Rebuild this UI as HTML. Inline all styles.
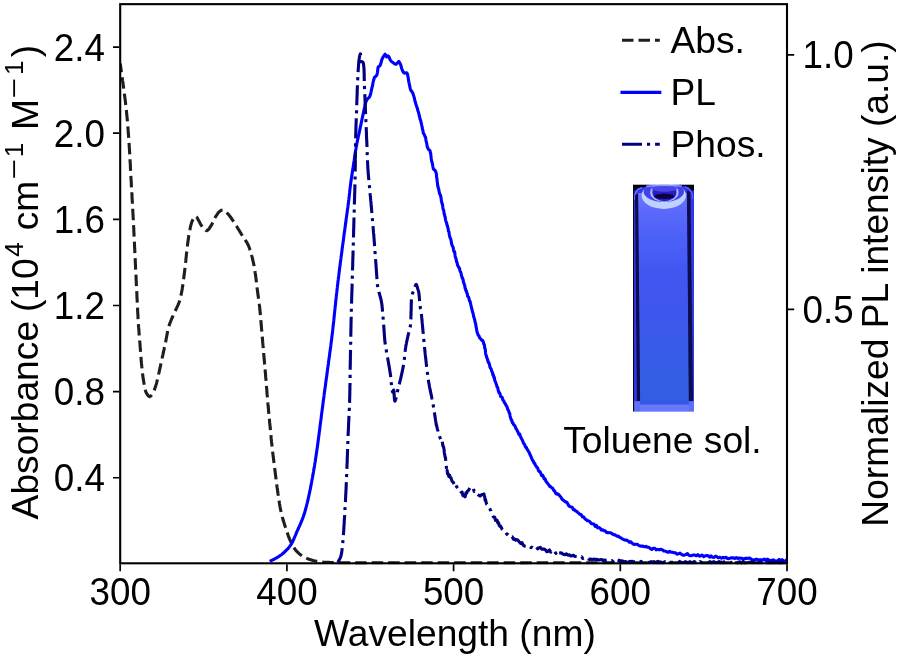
<!DOCTYPE html>
<html><head><meta charset="utf-8"><title>Spectra</title>
<style>
html,body{margin:0;padding:0;background:#fff;}
body{width:900px;height:657px;overflow:hidden;}
svg{display:block;}
text{font-family:"Liberation Sans",sans-serif;font-size:37.2px;fill:#000;}
.tk{font-size:36.8px;}
.sup{font-size:26.04px;}
</style></head><body>
<svg width="900" height="657" viewBox="0 0 900 657">
<defs>
<clipPath id="ax"><rect x="120.2" y="4.15" width="666.8" height="560.35"/></clipPath>
<linearGradient id="body" x1="0" y1="0" x2="0" y2="1">
<stop offset="0" stop-color="#7074ff"/><stop offset="0.1" stop-color="#5868fa"/><stop offset="0.22" stop-color="#4b60f6"/><stop offset="0.39" stop-color="#4056f0"/><stop offset="0.55" stop-color="#3e56ee"/><stop offset="0.75" stop-color="#385ce8"/><stop offset="1" stop-color="#325ee2"/>
</linearGradient>
<clipPath id="ph"><rect x="633" y="184.7" width="61" height="226.8"/></clipPath>
<filter id="soft" x="-10%" y="-10%" width="120%" height="120%"><feGaussianBlur stdDeviation="0.55"/></filter>
<linearGradient id="side" x1="0" y1="0" x2="0" y2="1">
<stop offset="0" stop-color="#2a22e8"/><stop offset="1" stop-color="#2030d8"/>
</linearGradient>
</defs>
<rect width="900" height="657" fill="#fff"/>

<g clip-path="url(#ax)" fill="none" stroke-linejoin="round">
<path d="M120.2,63.4 L120.4,65.0 L120.6,66.6 L120.9,68.1 L121.1,69.7 L121.3,71.3 L121.5,72.9 L121.8,74.4 L122.0,76.0 L122.2,77.6 L122.4,79.2 L122.6,80.7 L122.9,82.3 L123.1,83.9 L123.3,85.5 L123.5,87.0 L123.7,88.6 L123.9,90.2 L124.1,91.7 L124.3,93.3 L124.5,94.8 L124.7,96.3 L124.9,97.9 L125.1,99.4 L125.3,100.9 L125.5,102.5 L125.6,104.0 L125.8,105.6 L126.0,107.2 L126.2,108.8 L126.4,110.4 L126.5,112.0 L126.7,113.7 L126.8,115.1 L127.0,116.6 L127.1,118.0 L127.2,119.5 L127.4,121.0 L127.5,122.5 L127.6,124.0 L127.7,125.5 L127.9,127.1 L128.0,128.6 L128.1,130.2 L128.2,131.7 L128.3,133.3 L128.5,134.8 L128.6,136.4 L128.7,138.0 L128.8,139.5 L128.9,141.1 L129.0,142.6 L129.1,144.1 L129.2,145.7 L129.3,147.2 L129.4,148.8 L129.5,150.3 L129.6,151.9 L129.7,153.4 L129.8,155.0 L129.9,156.5 L130.0,158.0 L130.0,159.6 L130.1,161.1 L130.2,162.6 L130.3,164.2 L130.4,165.7 L130.4,167.3 L130.5,168.8 L130.6,170.4 L130.7,172.0 L130.8,173.6 L130.8,175.1 L130.9,176.8 L131.0,178.4 L131.1,180.0 L131.2,181.5 L131.3,183.0 L131.3,184.5 L131.4,186.0 L131.5,187.5 L131.6,189.0 L131.7,190.6 L131.8,192.1 L131.9,193.7 L132.0,195.3 L132.0,196.8 L132.1,198.4 L132.2,200.0 L132.3,201.6 L132.4,203.1 L132.5,204.7 L132.6,206.3 L132.7,207.8 L132.7,209.4 L132.8,210.9 L132.9,212.5 L133.0,214.0 L133.1,215.5 L133.1,217.0 L133.2,218.5 L133.3,220.0 L133.4,221.6 L133.5,223.1 L133.5,224.7 L133.6,226.2 L133.7,227.7 L133.8,229.2 L133.8,230.7 L133.9,232.2 L134.0,233.7 L134.0,235.2 L134.1,236.7 L134.2,238.2 L134.3,239.7 L134.3,241.2 L134.4,242.7 L134.5,244.1 L134.5,245.6 L134.6,247.2 L134.7,248.7 L134.8,250.2 L134.8,251.7 L134.9,253.3 L135.0,254.8 L135.0,256.3 L135.1,257.7 L135.2,259.3 L135.3,260.8 L135.3,262.3 L135.4,263.8 L135.5,265.3 L135.5,266.9 L135.6,268.4 L135.7,270.0 L135.8,271.5 L135.8,273.1 L135.9,274.6 L136.0,276.1 L136.1,277.7 L136.1,279.2 L136.2,280.7 L136.3,282.2 L136.3,283.7 L136.4,285.2 L136.5,286.7 L136.6,288.2 L136.6,289.7 L136.7,291.1 L136.8,292.7 L136.9,294.4 L136.9,296.0 L137.0,297.6 L137.1,299.2 L137.2,300.8 L137.2,302.4 L137.3,304.0 L137.4,305.6 L137.5,307.2 L137.6,308.7 L137.6,310.3 L137.7,311.8 L137.8,313.4 L137.9,314.9 L138.0,316.4 L138.0,317.8 L138.1,319.3 L138.2,320.8 L138.3,322.2 L138.4,323.9 L138.5,325.6 L138.6,327.2 L138.8,328.8 L138.9,330.4 L139.0,332.0 L139.1,333.5 L139.2,335.1 L139.4,336.6 L139.5,338.2 L139.6,339.7 L139.7,341.3 L139.9,342.8 L140.0,344.4 L140.1,346.0 L140.2,347.6 L140.4,349.2 L140.5,350.9 L140.6,352.5 L140.7,354.2 L140.9,355.8 L141.0,357.4 L141.1,359.0 L141.2,360.6 L141.4,362.2 L141.5,363.7 L141.7,365.2 L141.8,366.7 L142.0,368.4 L142.2,370.0 L142.3,371.7 L142.5,373.3 L142.7,374.8 L142.9,376.4 L143.1,377.9 L143.3,379.4 L143.6,380.8 L143.8,382.2 L144.1,384.1 L144.4,385.9 L144.7,387.6 L145.0,389.3 L145.5,390.8 L146.0,392.2 L147.1,394.2 L148.3,396.0 L149.6,396.7 L150.9,395.9 L152.1,394.2 L153.3,392.2 L154.0,390.8 L154.6,389.4 L155.1,387.8 L155.7,386.1 L156.2,384.4 L156.6,383.1 L156.9,381.7 L157.3,380.2 L157.6,378.7 L158.0,377.2 L158.3,375.7 L158.6,374.1 L159.0,372.6 L159.3,371.1 L159.6,369.6 L160.0,368.2 L160.3,366.7 L160.6,365.2 L160.9,363.8 L161.2,362.3 L161.5,360.8 L161.9,359.3 L162.2,357.8 L162.5,356.3 L162.9,354.8 L163.2,353.2 L163.5,351.7 L163.9,350.1 L164.2,348.5 L164.6,346.9 L164.9,345.4 L165.3,343.8 L165.6,342.2 L165.9,340.6 L166.2,339.0 L166.5,337.3 L166.8,335.7 L167.1,334.1 L167.4,332.4 L167.7,330.8 L168.1,329.2 L168.5,327.7 L168.9,326.2 L169.4,324.6 L170.0,323.0 L170.6,321.5 L171.2,320.0 L171.8,318.5 L172.5,317.0 L173.1,315.5 L173.8,314.0 L174.5,312.5 L175.2,311.0 L175.9,309.5 L176.7,307.9 L177.4,306.4 L178.1,304.9 L178.7,303.4 L179.3,301.8 L179.8,300.2 L180.2,298.7 L180.6,297.1 L180.9,295.6 L181.3,294.0 L181.6,292.3 L181.9,290.7 L182.2,288.9 L182.4,287.5 L182.7,286.1 L182.9,284.6 L183.1,283.1 L183.3,281.6 L183.5,280.0 L183.7,278.5 L183.9,276.9 L184.1,275.3 L184.3,273.7 L184.5,272.1 L184.7,270.5 L184.9,268.9 L185.1,267.3 L185.3,265.8 L185.4,264.2 L185.6,262.5 L185.8,260.9 L185.9,259.3 L186.1,257.6 L186.3,256.0 L186.4,254.4 L186.6,252.8 L186.8,251.2 L186.9,249.7 L187.1,248.2 L187.3,246.7 L187.5,245.0 L187.7,243.3 L187.9,241.7 L188.2,240.1 L188.4,238.5 L188.6,236.9 L188.8,235.4 L189.1,233.9 L189.3,232.5 L189.6,231.1 L190.0,229.3 L190.3,227.4 L190.7,225.7 L191.2,224.0 L191.6,222.5 L192.2,221.1 L193.2,218.9 L194.4,217.0 L195.6,216.2 L196.7,217.1 L197.8,219.1 L198.9,221.1 L199.7,222.5 L200.5,224.0 L201.3,225.4 L202.2,226.7 L203.2,228.0 L204.4,229.3 L205.6,230.3 L206.7,230.7 L207.8,230.1 L209.0,228.9 L210.1,227.2 L211.1,225.6 L211.9,224.3 L212.6,222.8 L213.4,221.2 L214.1,219.6 L214.8,218.1 L215.6,216.7 L216.7,215.1 L217.7,213.5 L218.9,212.1 L220.0,211.1 L221.6,210.2 L223.3,210.0 L224.8,210.8 L226.3,212.2 L227.8,213.8 L228.7,214.8 L229.7,216.0 L230.6,217.2 L231.5,218.5 L232.4,219.8 L233.3,221.1 L234.1,222.3 L234.9,223.6 L235.8,224.9 L236.6,226.2 L237.4,227.5 L238.1,228.8 L238.9,230.0 L239.8,231.5 L240.7,233.0 L241.6,234.5 L242.4,235.9 L243.3,237.3 L244.3,238.8 L245.4,240.3 L246.4,241.7 L247.3,243.3 L248.0,244.7 L248.7,246.2 L249.3,247.8 L249.8,249.4 L250.4,251.1 L250.9,252.6 L251.3,254.1 L251.7,255.6 L252.2,257.2 L252.5,258.9 L252.9,260.5 L253.3,262.2 L253.6,263.6 L253.9,265.0 L254.1,266.5 L254.4,268.0 L254.7,269.4 L254.9,270.9 L255.1,272.5 L255.4,274.0 L255.6,275.6 L255.8,277.1 L256.0,278.7 L256.2,280.3 L256.4,282.0 L256.6,283.7 L256.8,285.4 L257.0,287.0 L257.2,288.7 L257.4,290.3 L257.6,291.8 L257.8,293.3 L258.0,295.1 L258.3,296.7 L258.5,298.3 L258.7,299.9 L259.0,301.5 L259.2,303.2 L259.4,305.0 L259.6,306.4 L259.7,307.8 L259.8,309.3 L260.0,310.7 L260.1,312.3 L260.3,313.8 L260.4,315.4 L260.5,317.0 L260.7,318.6 L260.8,320.2 L261.0,321.8 L261.1,323.5 L261.2,325.0 L261.4,326.5 L261.5,328.0 L261.6,329.6 L261.8,331.1 L261.9,332.7 L262.0,334.3 L262.2,335.9 L262.3,337.5 L262.5,339.2 L262.6,340.8 L262.7,342.4 L262.9,344.0 L263.0,345.7 L263.2,347.3 L263.3,348.9 L263.4,350.5 L263.6,352.0 L263.7,353.6 L263.8,355.1 L264.0,356.7 L264.1,358.3 L264.2,359.8 L264.4,361.4 L264.5,363.0 L264.7,364.6 L264.8,366.2 L264.9,367.7 L265.1,369.3 L265.2,370.9 L265.3,372.5 L265.5,374.0 L265.6,375.6 L265.7,377.2 L265.9,378.7 L266.0,380.3 L266.1,381.9 L266.2,383.4 L266.4,385.0 L266.5,386.6 L266.6,388.1 L266.8,389.7 L266.9,391.3 L267.0,392.8 L267.1,394.4 L267.3,396.0 L267.4,397.5 L267.5,399.1 L267.7,400.6 L267.8,402.2 L267.9,403.7 L268.1,405.3 L268.2,406.8 L268.4,408.4 L268.5,409.9 L268.6,411.5 L268.8,413.0 L268.9,414.6 L269.1,416.1 L269.2,417.6 L269.4,419.2 L269.5,420.7 L269.6,422.2 L269.8,423.7 L269.9,425.1 L270.1,426.6 L270.2,428.0 L270.4,429.6 L270.5,431.2 L270.7,432.7 L270.8,434.2 L271.0,435.8 L271.1,437.3 L271.2,438.7 L271.4,440.2 L271.5,441.7 L271.7,443.2 L271.9,444.7 L272.0,446.2 L272.2,447.8 L272.4,449.3 L272.6,450.9 L272.7,452.5 L272.9,454.1 L273.1,455.6 L273.3,457.2 L273.5,458.8 L273.7,460.4 L273.9,462.0 L274.1,463.6 L274.3,465.2 L274.5,466.8 L274.7,468.4 L274.9,470.0 L275.1,471.6 L275.3,473.2 L275.5,474.8 L275.7,476.4 L275.9,478.0 L276.1,479.6 L276.3,481.2 L276.5,482.8 L276.7,484.4 L276.9,485.9 L277.1,487.5 L277.4,489.1 L277.6,490.7 L277.8,492.2 L278.0,493.8 L278.3,495.4 L278.5,496.9 L278.7,498.5 L278.9,500.1 L279.2,501.7 L279.4,503.2 L279.7,504.8 L279.9,506.3 L280.2,507.8 L280.5,509.3 L280.8,510.8 L281.1,512.2 L281.5,513.9 L281.9,515.5 L282.3,517.1 L282.8,518.7 L283.2,520.3 L283.7,521.8 L284.2,523.3 L284.6,524.8 L285.1,526.3 L285.6,527.8 L286.1,529.4 L286.6,531.0 L287.2,532.6 L287.7,534.1 L288.2,535.6 L288.8,537.1 L289.4,538.6 L290.0,540.0 L290.7,541.5 L291.4,543.1 L292.2,544.6 L293.0,546.0 L293.8,547.4 L294.7,548.8 L295.6,550.0 L296.8,551.4 L298.1,552.7 L299.4,553.9 L300.8,555.0 L302.2,556.0 L303.7,556.9 L305.2,557.7 L306.8,558.4 L308.4,559.0 L310.0,559.6 L311.4,560.0 L312.8,560.4 L314.2,560.8 L315.7,561.1 L317.3,561.3 L318.9,561.6 L320.2,561.8 L321.5,561.9 L322.9,562.1 L324.3,562.2 L325.7,562.3 L327.2,562.3 L328.8,562.4 L330.5,562.5 L332.4,562.5 L334.4,562.6 L335.4,562.6 L336.4,562.7 L337.5,562.7 L338.6,562.7 L339.6,562.7 L340.8,562.8 L341.9,562.8 L343.0,562.8 L344.2,562.8 L345.4,562.8 L346.6,562.8 L347.9,562.8 L349.1,562.8 L350.4,562.9 L351.8,562.9 L353.1,562.9 L354.5,562.9 L355.9,562.9 L357.3,562.9 L358.7,562.9 L360.2,562.9 L361.7,562.9 L363.2,562.9 L364.8,562.9 L366.4,562.9 L368.0,562.8 L369.6,562.8 L371.3,562.8 L373.0,562.8 L374.7,562.8 L376.5,562.8 L378.2,562.8 L380.1,562.8 L381.9,562.8 L383.8,562.8 L385.7,562.8 L387.6,562.8 L389.6,562.8 L391.6,562.8 L393.7,562.8 L395.7,562.8 L397.9,562.8 L400.0,562.8 L400.9,562.8 L401.8,562.8 L402.7,562.8 L403.6,562.8 L404.5,562.8 L405.4,562.8 L406.4,562.8 L407.3,562.8 L408.3,562.8 L409.2,562.8 L410.2,562.8 L411.2,562.8 L412.2,562.8 L413.2,562.8 L414.2,562.8 L415.2,562.8 L416.2,562.8 L417.3,562.8 L418.3,562.8 L419.4,562.8 L420.4,562.8 L421.5,562.8 L422.6,562.8 L423.7,562.8 L424.8,562.8 L425.9,562.8 L427.0,562.8 L428.1,562.8 L429.2,562.8 L430.4,562.8 L431.5,562.8 L432.7,562.8 L433.8,562.8 L435.0,562.8 L436.2,562.8 L437.3,562.8 L438.5,562.8 L439.7,562.8 L440.9,562.8 L442.1,562.8 L443.4,562.8 L444.6,562.8 L445.8,562.8 L447.1,562.8 L448.3,562.8 L449.6,562.8 L450.9,562.8 L452.1,562.8 L453.4,562.8 L454.7,562.8 L456.0,562.8 L457.3,562.8 L458.6,562.8 L459.9,562.8 L461.2,562.8 L462.5,562.8 L463.9,562.8 L465.2,562.8 L466.6,562.8 L467.9,562.8 L469.3,562.8 L470.6,562.8 L472.0,562.8 L473.4,562.8 L474.8,562.8 L476.2,562.8 L477.5,562.8 L478.9,562.8 L480.4,562.8 L481.8,562.8 L483.2,562.8 L484.6,562.8 L486.0,562.9 L487.5,562.9 L488.9,562.9 L490.4,562.9 L491.8,562.9 L493.3,562.9 L494.7,562.9 L496.2,562.9 L497.7,562.9 L499.1,562.9 L500.6,562.9 L502.1,562.9 L503.6,562.9 L505.1,562.9 L506.6,562.9 L508.1,562.9 L509.6,562.9 L511.1,562.9 L512.7,562.9 L514.2,562.9 L515.7,562.9 L517.3,562.9 L518.8,562.9 L520.3,562.9 L521.9,562.9 L523.4,562.9 L525.0,562.9 L526.6,562.9 L528.1,562.8 L529.7,562.8 L531.3,562.8 L532.8,562.8 L534.4,562.8 L536.0,562.8 L537.6,562.8 L539.2,562.8 L540.8,562.8 L542.4,562.8 L544.0,562.8 L545.6,562.8 L547.2,562.8 L548.8,562.8 L550.4,562.8 L552.0,562.8 L553.7,562.8 L555.3,562.8 L556.9,562.8 L558.5,562.8 L560.2,562.8 L561.8,562.8 L563.4,562.8 L565.1,562.8 L566.7,562.8 L568.4,562.8 L570.0,562.8 L571.7,562.8 L573.3,562.8 L575.0,562.8 L576.7,562.8 L578.3,562.8 L580.0,562.8 L581.7,562.8 L583.3,562.8 L585.0,562.8 L586.7,562.8 L588.3,562.8 L590.0,562.8 L591.7,562.8 L593.4,562.8 L595.1,562.8 L596.7,562.8 L598.4,562.8 L600.1,562.8 L601.8,562.8 L603.5,562.8 L605.2,562.8 L606.9,562.8 L608.6,562.8 L610.3,562.8 L612.0,562.8 L613.7,562.8 L615.4,562.8 L617.1,562.8 L618.8,562.8 L620.5,562.8 L622.2,562.8 L623.9,562.8 L625.6,562.8 L627.3,562.8 L629.0,562.8 L630.7,562.8 L632.4,562.8 L634.1,562.8 L635.8,562.8 L637.5,562.8 L639.2,562.8 L640.9,562.8 L642.6,562.8 L644.3,562.8 L646.1,562.8 L647.8,562.8 L649.5,562.8 L651.2,562.8 L652.9,562.8 L654.6,562.8 L656.3,562.8 L658.0,562.8 L659.7,562.8 L661.4,562.8 L663.1,562.8 L664.8,562.8 L666.5,562.8 L668.2,562.8 L669.9,562.8 L671.6,562.8 L673.3,562.8 L675.1,562.8 L676.7,562.8 L678.4,562.8 L680.1,562.8 L681.8,562.8 L683.5,562.8 L685.2,562.8 L686.9,562.8 L688.6,562.8 L690.3,562.8 L692.0,562.8 L693.7,562.8 L695.4,562.8 L697.1,562.8 L698.7,562.8 L700.4,562.8 L702.1,562.8 L703.8,562.8 L705.4,562.8 L707.1,562.8 L708.8,562.8 L710.5,562.8 L712.1,562.8 L713.8,562.8 L715.4,562.8 L717.1,562.8 L718.8,562.8 L720.4,562.8 L722.1,562.8 L723.7,562.8 L725.4,562.8 L727.0,562.8 L728.7,562.8 L730.3,562.8 L731.9,562.8 L733.6,562.8 L735.2,562.8 L736.8,562.8 L738.5,562.8 L740.1,562.8 L741.7,562.8 L743.3,562.8 L744.9,562.8 L746.5,562.8 L748.1,562.8 L749.7,562.8 L751.3,562.8 L752.9,562.8 L754.5,562.8 L756.1,562.8 L757.7,562.8 L759.3,562.8 L760.8,562.8 L762.4,562.8 L764.0,562.8 L765.6,562.8 L767.1,562.8 L768.7,562.8 L770.2,562.8 L771.8,562.8 L773.3,562.8 L774.8,562.8 L776.4,562.8 L777.9,562.8 L779.4,562.8 L781.0,562.8 L782.5,562.8 L784.0,562.8 L785.5,562.8 L787.0,562.8" stroke="#1e1e1e" stroke-width="3.1" stroke-dasharray="11.5 5" stroke-dashoffset="2.5"/>
<path d="M271.1,560.7 L272.4,560.0 L273.8,559.3 L275.1,558.6 L276.5,557.9 L277.8,557.1 L279.2,556.2 L280.5,555.3 L281.8,554.4 L283.1,553.3 L284.4,552.2 L285.4,551.2 L286.4,550.2 L287.4,549.2 L288.4,548.1 L289.3,546.9 L290.2,545.7 L291.1,544.4 L291.8,543.2 L292.5,542.0 L293.1,540.7 L293.7,539.3 L294.3,537.9 L294.9,536.5 L295.5,535.1 L296.1,533.6 L296.7,532.2 L297.2,531.0 L297.8,529.7 L298.4,528.5 L298.9,527.2 L299.5,526.0 L300.1,524.7 L300.7,523.4 L301.2,522.0 L301.8,520.7 L302.3,519.4 L302.8,518.0 L303.3,516.7 L303.7,515.4 L304.2,514.1 L304.6,512.7 L305.0,511.4 L305.4,510.0 L305.8,508.7 L306.1,507.3 L306.5,505.9 L306.8,504.5 L307.2,503.1 L307.5,501.7 L307.9,500.3 L308.2,498.9 L308.5,497.5 L308.8,496.1 L309.1,494.7 L309.4,493.3 L309.7,491.9 L310.0,490.4 L310.3,489.0 L310.6,487.5 L310.9,486.1 L311.1,484.7 L311.4,483.2 L311.7,481.8 L311.9,480.3 L312.2,478.9 L312.5,477.5 L312.7,476.0 L313.0,474.6 L313.2,473.2 L313.5,471.8 L313.7,470.3 L314.0,468.9 L314.2,467.5 L314.5,466.0 L314.7,464.6 L314.9,463.2 L315.2,461.8 L315.4,460.3 L315.6,458.9 L315.8,457.5 L316.0,456.1 L316.2,454.8 L316.4,453.4 L316.6,452.1 L316.8,450.7 L317.0,449.3 L317.2,448.0 L317.4,446.6 L317.6,445.2 L317.8,443.7 L318.0,442.2 L318.2,440.6 L318.4,439.0 L318.6,437.8 L318.7,436.6 L318.9,435.3 L319.1,434.0 L319.2,432.7 L319.4,431.3 L319.6,430.0 L319.8,428.6 L319.9,427.2 L320.1,425.7 L320.3,424.3 L320.5,422.9 L320.7,421.4 L320.9,419.9 L321.1,418.4 L321.3,417.0 L321.4,415.5 L321.6,414.0 L321.8,412.5 L322.0,411.1 L322.2,409.6 L322.4,408.1 L322.6,406.7 L322.8,405.3 L322.9,403.9 L323.1,402.5 L323.3,401.1 L323.5,399.7 L323.7,398.2 L323.9,396.8 L324.1,395.4 L324.2,394.0 L324.4,392.6 L324.6,391.2 L324.8,389.8 L325.0,388.5 L325.2,387.1 L325.4,385.7 L325.6,384.3 L325.7,382.9 L325.9,381.6 L326.1,380.2 L326.3,378.8 L326.5,377.5 L326.7,376.1 L326.9,374.7 L327.1,373.3 L327.2,372.0 L327.4,370.6 L327.6,369.2 L327.8,367.8 L328.0,366.4 L328.2,365.0 L328.4,363.7 L328.5,362.3 L328.7,360.9 L328.9,359.6 L329.1,358.2 L329.3,356.8 L329.5,355.5 L329.7,354.1 L329.8,352.7 L330.0,351.4 L330.2,350.0 L330.4,348.6 L330.6,347.3 L330.8,345.9 L330.9,344.5 L331.1,343.1 L331.3,341.6 L331.5,340.2 L331.7,338.8 L331.8,337.3 L332.0,335.9 L332.2,334.4 L332.4,333.1 L332.5,331.7 L332.7,330.4 L332.8,329.0 L333.0,327.6 L333.1,326.2 L333.3,324.8 L333.5,323.3 L333.6,321.9 L333.8,320.4 L333.9,319.0 L334.1,317.5 L334.2,316.0 L334.4,314.5 L334.5,313.1 L334.7,311.6 L334.8,310.1 L335.0,308.7 L335.1,307.2 L335.3,305.8 L335.5,304.3 L335.6,302.9 L335.7,301.5 L335.9,300.1 L336.0,298.8 L336.2,297.4 L336.3,296.1 L336.5,294.8 L336.6,293.5 L336.8,292.2 L336.9,291.0 L337.1,289.4 L337.3,287.9 L337.4,286.4 L337.6,285.0 L337.8,283.5 L337.9,282.2 L338.1,280.8 L338.3,279.4 L338.4,278.1 L338.6,276.8 L338.8,275.4 L338.9,274.1 L339.1,272.7 L339.3,271.3 L339.4,270.0 L339.6,268.5 L339.8,267.1 L340.0,265.6 L340.2,264.3 L340.3,263.0 L340.5,261.6 L340.7,260.3 L340.9,258.9 L341.0,257.6 L341.2,256.2 L341.4,254.8 L341.6,253.4 L341.8,252.0 L342.0,250.6 L342.1,249.2 L342.3,247.8 L342.5,246.3 L342.7,244.9 L342.9,243.5 L343.1,242.1 L343.3,240.7 L343.5,239.2 L343.7,237.8 L343.8,236.4 L344.0,235.0 L344.2,233.6 L344.4,232.2 L344.6,230.8 L344.8,229.4 L345.0,227.9 L345.2,226.5 L345.4,225.0 L345.6,223.5 L345.8,222.0 L346.0,220.5 L346.2,219.0 L346.4,217.6 L346.6,216.1 L346.8,214.6 L347.0,213.2 L347.2,211.7 L347.4,210.3 L347.6,208.9 L347.8,207.5 L348.0,206.2 L348.1,204.9 L348.3,203.6 L348.5,202.3 L348.6,201.1 L348.8,200.0 L348.9,198.9 L349.1,197.2 L349.3,195.6 L349.4,194.1 L349.6,192.7 L349.7,191.4 L349.9,190.0 L350.0,188.6 L350.2,187.2 L350.4,185.6 L350.6,184.3 L350.7,183.0 L350.9,181.7 L351.1,180.3 L351.3,178.9 L351.5,177.5 L351.8,176.1 L352.0,174.7 L352.2,173.2 L352.4,171.8 L352.6,170.3 L352.9,168.9 L353.1,167.4 L353.3,166.0 L353.5,164.6 L353.7,163.1 L353.9,161.7 L354.2,160.2 L354.4,158.7 L354.6,157.3 L354.8,155.8 L355.1,154.3 L355.3,152.8 L355.5,151.4 L355.7,149.9 L356.0,148.5 L356.2,147.1 L356.5,145.7 L356.7,144.4 L357.0,142.9 L357.3,141.4 L357.6,140.0 L357.9,138.6 L358.2,137.2 L358.5,135.8 L358.8,134.4 L359.1,133.1 L359.4,131.7 L359.7,130.3 L360.0,128.9 L360.3,127.5 L360.6,126.0 L360.9,124.6 L361.2,123.2 L361.5,121.7 L361.8,120.3 L362.1,118.9 L362.4,117.5 L362.7,116.1 L363.0,114.7 L363.3,113.3 L363.7,111.7 L364.0,110.1 L364.3,108.4 L364.7,106.8 L365.0,105.2 L365.4,103.7 L365.8,102.3 L366.2,101.1 L366.7,100.0 L367.6,98.8 L368.7,97.9 L369.6,96.7 L370.1,95.6 L370.5,94.3 L370.9,92.8 L371.2,91.3 L371.5,89.7 L371.9,88.2 L372.2,86.7 L372.6,85.3 L372.9,83.3 L373.2,81.8 L373.5,80.5 L373.9,79.2 L374.4,77.5 L375.6,76.5 L376.7,75.3 L377.1,74.3 L377.4,72.5 L377.6,71.0 L377.8,69.4 L378.0,67.6 L378.4,66.8 L380.0,65.7 L380.5,64.3 L380.9,63.3 L381.3,61.6 L381.7,60.2 L382.2,58.7 L383.1,57.1 L384.2,55.2 L385.1,54.2 L385.9,55.5 L386.7,56.9 L388.2,55.9 L388.9,56.7 L389.6,58.4 L390.4,60.3 L391.8,61.8 L393.3,62.8 L394.8,63.9 L396.2,64.2 L397.6,62.7 L398.9,61.5 L399.9,63.1 L400.7,64.9 L401.2,66.4 L401.6,68.2 L402.2,69.9 L403.2,72.0 L404.4,73.1 L406.7,72.8 L407.3,73.6 L407.7,75.3 L408.0,76.8 L408.3,78.5 L408.6,80.4 L408.9,82.2 L409.2,83.7 L409.6,85.3 L409.9,87.2 L410.2,88.4 L410.7,90.0 L411.8,91.5 L412.9,93.4 L413.3,94.6 L413.7,95.9 L414.1,97.3 L414.5,98.7 L414.8,100.4 L415.2,101.7 L415.6,103.4 L416.1,104.7 L416.5,106.2 L417.0,107.4 L417.5,109.0 L418.0,111.0 L418.4,112.0 L418.8,113.7 L419.1,115.0 L419.5,116.5 L419.8,117.7 L420.1,119.4 L420.5,119.7 L420.8,121.1 L421.1,122.7 L421.5,124.2 L421.8,125.6 L422.2,127.2 L422.5,129.5 L422.9,130.2 L423.3,133.1 L423.9,134.0 L424.5,135.1 L425.1,136.7 L425.6,137.3 L425.9,140.0 L426.2,141.3 L426.5,142.7 L426.8,143.8 L427.1,146.1 L427.4,147.2 L427.8,148.1 L428.7,149.7 L429.6,150.3 L430.0,150.7 L430.3,152.3 L430.6,153.0 L430.8,154.6 L431.1,157.2 L431.3,158.9 L431.6,160.7 L431.8,161.8 L432.2,163.0 L432.5,163.9 L432.8,166.3 L433.3,168.7 L434.0,169.6 L434.9,170.1 L435.6,171.4 L435.9,172.0 L436.2,173.1 L436.4,174.2 L436.6,177.3 L436.8,178.3 L437.0,178.8 L437.1,180.9 L437.3,181.8 L437.5,183.6 L437.8,186.1 L438.1,187.4 L438.5,188.5 L438.8,189.6 L439.2,191.8 L439.6,193.9 L440.0,194.3 L440.4,195.0 L440.7,196.5 L441.1,198.1 L441.4,201.2 L441.7,201.7 L442.0,203.7 L442.3,203.8 L442.6,205.4 L442.9,207.7 L443.2,209.6 L443.5,209.9 L443.8,210.8 L444.1,213.8 L444.4,214.0 L444.8,216.4 L445.1,216.8 L445.5,219.3 L445.9,221.1 L446.3,222.4 L446.7,223.1 L447.0,225.3 L447.4,225.6 L447.8,227.4 L448.2,229.1 L448.5,231.5 L448.9,231.6 L449.3,234.5 L449.6,235.9 L450.0,237.7 L450.3,238.0 L450.7,239.1 L451.1,240.6 L451.5,243.2 L451.9,244.9 L452.3,245.7 L452.8,246.7 L453.2,247.7 L453.6,250.1 L454.0,251.6 L454.4,251.4 L454.8,253.0 L455.1,255.7 L455.4,257.2 L455.7,257.6 L456.0,258.9 L456.4,260.6 L456.7,262.1 L457.1,262.5 L457.6,265.4 L458.2,266.1 L458.8,267.8 L459.4,268.0 L460.0,270.9 L460.5,271.9 L460.9,272.5 L461.4,275.2 L461.8,276.3 L462.2,278.1 L462.6,278.1 L463.1,279.7 L463.5,282.4 L463.9,282.9 L464.3,284.7 L464.7,285.3 L465.1,288.3 L465.5,288.8 L465.9,290.8 L466.3,290.6 L466.7,292.8 L467.2,293.3 L467.6,296.2 L468.1,296.7 L468.6,297.2 L469.0,298.5 L469.5,300.8 L470.0,301.2 L470.4,302.9 L470.8,304.7 L471.2,306.2 L471.5,307.7 L471.9,309.3 L472.2,310.2 L472.6,312.2 L472.9,312.7 L473.3,314.5 L473.7,317.0 L474.0,317.2 L474.4,318.8 L474.8,320.3 L475.1,322.3 L475.4,322.9 L475.8,324.6 L476.1,327.0 L476.4,328.0 L476.8,330.6 L477.2,332.3 L477.6,333.3 L478.0,334.8 L478.4,335.4 L478.9,335.8 L479.7,337.9 L480.7,338.8 L481.6,340.1 L482.5,340.2 L483.3,341.7 L483.7,343.9 L484.1,344.1 L484.5,345.7 L484.7,348.2 L485.0,348.4 L485.3,349.7 L485.5,352.4 L485.7,353.7 L486.0,355.2 L486.3,355.5 L486.7,357.6 L487.2,358.3 L487.7,360.2 L488.3,362.5 L488.8,362.5 L489.4,364.3 L490.0,367.1 L490.6,368.4 L491.1,368.9 L491.6,370.7 L492.0,371.8 L492.5,372.7 L492.9,374.9 L493.4,374.9 L493.8,377.5 L494.3,377.3 L494.7,380.3 L495.1,381.2 L495.6,382.1 L496.1,383.9 L496.6,384.9 L497.0,387.0 L497.5,387.1 L498.0,389.2 L498.5,391.3 L499.0,392.8 L499.5,392.6 L500.0,393.9 L500.7,396.6 L501.4,396.8 L502.2,397.5 L502.9,400.1 L503.7,400.7 L504.4,402.7 L505.1,403.4 L505.7,404.7 L506.4,405.8 L507.1,406.8 L507.7,409.3 L508.3,410.1 L508.9,411.7 L509.4,413.3 L509.7,413.4 L510.1,416.1 L510.4,417.4 L510.7,418.1 L511.2,419.7 L511.7,420.2 L512.3,422.7 L512.9,422.7 L513.6,424.7 L514.3,425.1 L515.1,426.2 L515.9,428.5 L516.7,429.5 L517.4,431.1 L518.2,432.6 L518.9,434.3 L519.6,433.8 L520.3,436.2 L520.9,437.4 L521.6,438.9 L522.3,440.0 L522.9,441.4 L523.6,443.4 L524.2,443.9 L524.9,445.4 L525.6,447.1 L526.3,447.2 L527.0,449.2 L527.7,449.9 L528.4,451.3 L529.1,452.3 L529.8,454.1 L530.5,455.4 L531.2,457.3 L531.9,458.7 L532.6,460.5 L533.3,461.1 L534.0,463.2 L534.8,463.5 L535.5,465.4 L536.2,466.3 L537.0,467.6 L537.7,468.1 L538.5,470.7 L539.2,471.5 L540.0,471.5 L540.8,473.5 L541.7,475.7 L542.5,475.1 L543.4,476.8 L544.2,479.0 L545.1,478.8 L546.0,481.4 L546.9,482.3 L547.8,483.8 L548.7,484.6 L549.7,486.5 L550.7,486.5 L551.7,488.0 L552.6,488.1 L553.6,490.2 L554.6,491.0 L555.6,493.2 L556.7,494.2 L557.8,493.8 L558.8,494.7 L559.9,496.0 L561.0,497.2 L562.2,499.4 L563.3,500.1 L564.4,501.1 L565.5,501.9 L566.6,502.0 L567.7,503.7 L568.8,505.9 L570.0,506.5 L571.1,507.0 L572.2,507.2 L573.3,509.6 L574.4,509.6 L575.5,511.0 L576.6,511.2 L577.7,512.4 L578.9,513.4 L580.0,514.5 L581.1,514.6 L582.4,516.9 L583.6,516.9 L584.9,518.7 L586.2,519.7 L587.4,520.8 L588.7,520.9 L590.0,521.8 L591.3,523.6 L592.5,523.7 L593.8,524.0 L595.1,526.3 L596.3,525.3 L597.6,527.8 L598.9,527.4 L600.2,528.3 L601.4,530.1 L602.7,529.7 L604.0,530.8 L605.2,530.8 L606.5,532.4 L607.8,532.6 L609.3,532.8 L610.7,532.7 L612.2,533.8 L613.7,534.7 L615.2,534.9 L616.7,536.1 L618.0,536.0 L619.4,537.2 L620.8,537.9 L622.2,538.8 L623.7,539.5 L625.1,540.1 L626.6,540.1 L628.0,540.8 L629.3,542.2 L630.6,541.7 L631.9,543.0 L633.3,544.1 L634.6,544.5 L635.9,544.3 L637.3,544.3 L638.6,545.4 L640.0,546.0 L641.4,546.1 L642.9,546.1 L644.4,546.8 L645.8,546.4 L647.3,547.2 L648.8,547.2 L650.3,548.6 L651.8,549.5 L653.3,548.2 L654.8,548.2 L656.3,549.9 L657.8,549.4 L659.2,549.9 L660.7,549.3 L662.2,549.7 L663.7,551.0 L665.2,551.0 L666.7,551.8 L668.2,552.3 L669.7,551.4 L671.1,552.3 L672.6,552.2 L674.1,552.7 L675.6,552.8 L677.0,554.2 L678.5,553.8 L680.0,553.1 L681.5,554.4 L682.9,555.1 L684.4,555.1 L685.9,554.6 L687.4,553.6 L688.9,555.3 L690.3,555.7 L691.8,555.4 L693.3,555.0 L694.8,555.0 L696.3,555.8 L697.8,554.7 L699.3,556.2 L700.7,555.7 L702.2,555.0 L703.7,556.6 L705.2,555.9 L706.7,555.4 L708.2,555.7 L709.7,557.2 L711.1,555.9 L712.6,557.3 L714.1,557.4 L715.6,556.1 L717.0,556.9 L718.5,557.8 L720.0,557.3 L721.5,558.1 L723.0,557.3 L724.4,557.9 L725.9,557.2 L727.4,558.5 L728.9,558.6 L730.3,558.1 L731.8,557.8 L733.3,557.9 L734.8,558.5 L736.3,557.6 L737.8,558.5 L739.3,558.1 L740.7,558.3 L742.2,558.3 L743.7,559.4 L745.2,558.2 L746.7,558.4 L748.2,558.3 L749.7,558.1 L751.1,559.0 L752.6,559.9 L754.1,560.1 L755.6,559.3 L757.0,559.3 L758.5,560.3 L760.0,559.7 L761.5,559.8 L763.0,560.0 L764.4,559.0 L765.9,560.6 L767.4,559.2 L768.9,560.1 L770.3,560.9 L771.8,560.2 L773.3,559.9 L774.8,560.7 L776.2,561.1 L777.7,560.6 L779.2,559.5 L780.6,561.2 L782.1,559.6 L783.6,560.9 L785.0,561.4 L786.5,560.0" stroke="#0000ff" stroke-width="3.1" stroke-linecap="square"/>
<path d="M337.8,562.2 L338.6,560.9 L339.3,559.7 L340.1,558.3 L340.7,556.7 L341.0,555.7 L341.2,554.6 L341.5,553.5 L341.7,552.2 L341.9,550.9 L342.0,549.6 L342.2,548.2 L342.3,546.8 L342.5,545.4 L342.6,544.0 L342.8,542.5 L342.9,541.1 L343.0,539.9 L343.1,538.7 L343.2,537.5 L343.3,536.2 L343.4,535.0 L343.5,533.7 L343.6,532.4 L343.7,531.1 L343.8,529.8 L343.8,528.4 L343.9,527.1 L344.0,525.8 L344.1,524.4 L344.2,523.0 L344.2,521.7 L344.3,520.3 L344.4,518.9 L344.5,517.7 L344.6,516.4 L344.6,515.1 L344.7,513.9 L344.8,512.6 L344.9,511.3 L344.9,509.9 L345.0,508.6 L345.1,507.3 L345.2,506.0 L345.2,504.6 L345.3,503.3 L345.4,501.9 L345.5,500.6 L345.5,499.2 L345.6,497.9 L345.7,496.6 L345.7,495.2 L345.8,493.9 L345.9,492.6 L345.9,491.3 L346.0,490.0 L346.1,488.6 L346.1,487.3 L346.2,486.0 L346.2,484.6 L346.3,483.3 L346.4,482.0 L346.4,480.7 L346.5,479.4 L346.5,478.1 L346.6,476.7 L346.6,475.4 L346.7,474.1 L346.7,472.8 L346.8,471.5 L346.8,470.1 L346.9,468.8 L346.9,467.4 L347.0,466.1 L347.0,464.7 L347.1,463.3 L347.2,462.0 L347.2,460.7 L347.2,459.4 L347.3,458.1 L347.3,456.8 L347.4,455.4 L347.4,454.1 L347.5,452.7 L347.5,451.4 L347.6,450.0 L347.6,448.6 L347.7,447.3 L347.7,445.9 L347.8,444.5 L347.8,443.2 L347.9,441.8 L347.9,440.4 L348.0,439.1 L348.0,437.7 L348.1,436.3 L348.1,435.0 L348.2,433.7 L348.2,432.3 L348.3,431.0 L348.4,429.7 L348.4,428.4 L348.5,427.1 L348.5,425.8 L348.6,424.5 L348.6,423.3 L348.7,422.0 L348.8,420.7 L348.8,419.5 L348.9,418.2 L348.9,417.0 L349.0,415.7 L349.1,414.4 L349.1,413.2 L349.2,411.9 L349.2,410.6 L349.3,409.3 L349.4,408.0 L349.4,406.6 L349.5,405.3 L349.5,403.9 L349.6,402.5 L349.6,401.1 L349.6,399.9 L349.7,398.7 L349.7,397.5 L349.7,396.3 L349.8,395.0 L349.8,393.8 L349.8,392.5 L349.8,391.3 L349.9,390.0 L349.9,388.7 L349.9,387.4 L349.9,386.1 L350.0,384.8 L350.0,383.4 L350.0,382.1 L350.0,380.8 L350.0,379.5 L350.1,378.1 L350.1,376.8 L350.1,375.4 L350.1,374.1 L350.1,372.7 L350.2,371.4 L350.2,370.0 L350.2,368.7 L350.2,367.3 L350.2,366.0 L350.3,364.7 L350.3,363.3 L350.3,362.0 L350.3,360.7 L350.4,359.3 L350.4,358.0 L350.4,356.7 L350.4,355.4 L350.5,354.1 L350.5,352.7 L350.5,351.4 L350.5,350.1 L350.6,348.7 L350.6,347.4 L350.6,346.0 L350.6,344.6 L350.7,343.3 L350.7,341.9 L350.7,340.6 L350.7,339.2 L350.8,337.8 L350.8,336.5 L350.8,335.1 L350.8,333.8 L350.9,332.4 L350.9,331.1 L350.9,329.7 L350.9,328.4 L351.0,327.1 L351.0,325.8 L351.0,324.5 L351.0,323.2 L351.1,321.9 L351.1,320.7 L351.1,319.4 L351.2,318.2 L351.2,316.9 L351.2,315.7 L351.2,314.5 L351.3,313.4 L351.3,312.2 L351.3,310.7 L351.4,309.2 L351.4,307.8 L351.5,306.4 L351.5,305.1 L351.5,303.7 L351.6,302.4 L351.6,301.1 L351.6,299.8 L351.7,298.5 L351.7,297.3 L351.8,296.0 L351.8,294.7 L351.8,293.4 L351.9,292.1 L351.9,290.7 L352.0,289.3 L352.0,287.9 L352.1,286.5 L352.1,285.0 L352.1,283.8 L352.2,282.6 L352.2,281.4 L352.2,280.2 L352.3,279.0 L352.3,277.7 L352.3,276.5 L352.4,275.2 L352.4,273.9 L352.5,272.6 L352.5,271.3 L352.5,270.0 L352.6,268.7 L352.6,267.3 L352.7,266.0 L352.7,264.7 L352.7,263.3 L352.8,262.0 L352.8,260.6 L352.8,259.3 L352.9,257.9 L352.9,256.6 L353.0,255.2 L353.0,253.9 L353.0,252.5 L353.1,251.2 L353.1,249.9 L353.2,248.5 L353.2,247.2 L353.2,245.9 L353.3,244.6 L353.3,243.3 L353.3,241.9 L353.4,240.6 L353.4,239.2 L353.5,237.9 L353.5,236.5 L353.5,235.1 L353.6,233.7 L353.6,232.3 L353.6,231.0 L353.7,229.6 L353.7,228.2 L353.8,226.8 L353.8,225.4 L353.8,224.0 L353.9,222.7 L353.9,221.3 L353.9,220.0 L354.0,218.6 L354.0,217.3 L354.1,215.9 L354.1,214.6 L354.1,213.3 L354.2,212.0 L354.2,210.7 L354.2,209.4 L354.3,208.2 L354.3,206.9 L354.3,205.7 L354.4,204.5 L354.4,203.3 L354.4,201.8 L354.5,200.4 L354.5,199.0 L354.6,197.7 L354.6,196.4 L354.6,195.1 L354.7,193.8 L354.7,192.5 L354.8,191.2 L354.8,190.0 L354.8,188.7 L354.9,187.5 L354.9,186.2 L354.9,184.9 L355.0,183.6 L355.0,182.2 L355.0,180.9 L355.1,179.4 L355.1,178.0 L355.1,176.8 L355.1,175.6 L355.2,174.4 L355.2,173.1 L355.2,171.9 L355.2,170.6 L355.2,169.3 L355.2,168.0 L355.3,166.7 L355.3,165.4 L355.3,164.0 L355.3,162.7 L355.3,161.4 L355.3,160.0 L355.3,158.6 L355.4,157.3 L355.4,155.9 L355.4,154.6 L355.4,153.2 L355.4,151.9 L355.4,150.5 L355.4,149.2 L355.5,147.8 L355.5,146.5 L355.5,145.2 L355.5,143.9 L355.5,142.6 L355.6,141.3 L355.6,140.0 L355.6,138.6 L355.7,137.3 L355.7,135.9 L355.7,134.5 L355.8,133.2 L355.8,131.8 L355.9,130.4 L355.9,129.1 L355.9,127.8 L356.0,126.4 L356.0,125.1 L356.1,123.7 L356.1,122.4 L356.2,121.1 L356.2,119.7 L356.3,118.4 L356.3,117.1 L356.4,115.8 L356.4,114.5 L356.5,113.2 L356.5,111.9 L356.6,110.6 L356.6,109.3 L356.7,108.0 L356.7,106.7 L356.7,105.3 L356.8,104.0 L356.8,102.6 L356.9,101.2 L356.9,99.9 L357.0,98.5 L357.0,97.2 L357.1,95.8 L357.1,94.5 L357.2,93.1 L357.2,91.8 L357.2,90.5 L357.3,89.1 L357.3,87.8 L357.4,86.5 L357.4,85.2 L357.5,84.0 L357.6,82.7 L357.6,81.5 L357.7,80.2 L357.7,79.0 L357.8,77.8 L357.9,76.3 L358.0,74.8 L358.0,73.3 L358.1,71.8 L358.2,70.3 L358.3,68.8 L358.4,67.3 L358.5,65.9 L358.6,64.5 L358.7,63.2 L358.8,61.9 L358.9,60.8 L359.0,59.7 L359.2,58.7 L359.3,57.8 L359.7,55.9 L360.1,54.4 L360.4,53.8 L360.6,54.3 L360.7,55.5 L360.8,57.2 L360.9,59.1 L361.0,60.8 L361.1,62.2 L361.3,64.4 L361.6,65.6 L362.2,63.9 L362.9,62.2 L363.3,62.9 L363.6,64.6 L363.8,66.7 L363.9,67.7 L364.0,68.7 L364.0,69.9 L364.1,71.1 L364.1,72.5 L364.2,73.8 L364.2,75.3 L364.2,76.7 L364.2,78.3 L364.3,79.8 L364.3,81.3 L364.3,82.9 L364.4,84.4 L364.4,85.6 L364.5,86.8 L364.5,88.0 L364.6,89.2 L364.6,90.5 L364.7,91.8 L364.7,93.1 L364.8,94.4 L364.9,95.8 L364.9,97.1 L365.0,98.5 L365.0,99.8 L365.1,101.2 L365.1,102.6 L365.2,103.9 L365.3,105.3 L365.3,106.7 L365.4,108.0 L365.4,109.4 L365.5,110.7 L365.5,112.0 L365.6,113.3 L365.7,114.7 L365.7,116.0 L365.8,117.3 L365.8,118.7 L365.9,120.0 L365.9,121.3 L366.0,122.7 L366.0,124.0 L366.1,125.3 L366.1,126.6 L366.2,127.9 L366.3,129.3 L366.3,130.6 L366.4,131.9 L366.4,133.2 L366.5,134.6 L366.5,135.9 L366.6,137.3 L366.6,138.6 L366.7,140.0 L366.8,141.3 L366.8,142.6 L366.9,143.9 L366.9,145.2 L367.0,146.5 L367.0,147.8 L367.1,149.1 L367.1,150.5 L367.1,151.8 L367.2,153.2 L367.2,154.5 L367.3,155.8 L367.4,157.2 L367.4,158.5 L367.5,159.8 L367.5,161.1 L367.6,162.5 L367.6,163.7 L367.7,165.0 L367.8,166.3 L367.8,167.6 L367.9,168.8 L368.0,170.0 L368.1,171.4 L368.2,172.8 L368.3,174.1 L368.4,175.4 L368.5,176.7 L368.6,178.0 L368.8,179.3 L368.9,180.6 L369.0,181.9 L369.1,183.1 L369.3,184.4 L369.4,185.7 L369.5,187.0 L369.6,188.3 L369.8,189.6 L369.9,190.9 L370.0,192.2 L370.1,193.5 L370.2,194.9 L370.4,196.2 L370.5,197.5 L370.6,198.9 L370.7,200.2 L370.9,201.6 L371.0,203.0 L371.1,204.3 L371.2,205.7 L371.3,207.0 L371.5,208.4 L371.6,209.8 L371.7,211.2 L371.8,212.5 L372.0,213.9 L372.1,215.3 L372.2,216.7 L372.3,218.0 L372.4,219.3 L372.5,220.6 L372.7,222.0 L372.8,223.3 L372.9,224.6 L373.0,226.0 L373.1,227.3 L373.2,228.7 L373.3,230.0 L373.4,231.3 L373.5,232.7 L373.7,234.0 L373.8,235.4 L373.9,236.7 L374.0,238.0 L374.1,239.4 L374.2,240.7 L374.3,242.0 L374.4,243.3 L374.5,244.7 L374.6,246.1 L374.7,247.5 L374.8,248.9 L374.9,250.2 L375.0,251.6 L375.1,253.0 L375.2,254.4 L375.3,255.8 L375.4,257.1 L375.5,258.5 L375.6,259.9 L375.7,261.2 L375.8,262.5 L375.9,263.9 L376.0,265.2 L376.1,266.5 L376.2,267.8 L376.3,269.2 L376.4,270.7 L376.5,272.2 L376.6,273.7 L376.7,275.2 L376.8,276.7 L376.9,278.2 L377.0,279.6 L377.1,281.1 L377.2,282.4 L377.3,283.7 L377.4,284.9 L377.6,286.0 L377.7,286.9 L377.8,287.8 L378.2,289.7 L378.7,291.5 L379.0,292.6 L379.4,293.8 L379.8,295.1 L380.2,296.5 L380.6,298.0 L381.0,299.5 L381.3,301.1 L381.5,302.2 L381.7,303.4 L381.9,304.7 L382.0,306.0 L382.2,307.3 L382.3,308.6 L382.4,310.0 L382.6,311.4 L382.7,312.8 L382.8,314.3 L382.9,315.7 L383.0,317.1 L383.2,318.6 L383.3,320.0 L383.4,321.3 L383.5,322.7 L383.6,324.0 L383.7,325.4 L383.8,326.8 L383.9,328.2 L384.0,329.7 L384.1,331.1 L384.2,332.5 L384.3,333.9 L384.4,335.3 L384.5,336.7 L384.6,338.1 L384.7,339.4 L384.8,340.8 L385.0,342.0 L385.1,343.3 L385.3,344.7 L385.5,346.1 L385.7,347.4 L385.9,348.7 L386.2,350.0 L386.4,351.3 L386.6,352.6 L386.9,353.8 L387.1,355.1 L387.3,356.3 L387.6,357.6 L387.8,358.9 L388.0,360.2 L388.3,361.5 L388.5,362.8 L388.7,364.1 L388.9,365.4 L389.2,366.7 L389.4,368.0 L389.6,369.3 L389.8,370.6 L390.0,371.9 L390.2,373.1 L390.4,374.4 L390.6,375.8 L390.7,377.3 L390.9,378.7 L391.0,380.2 L391.1,381.6 L391.3,383.0 L391.4,384.3 L391.5,385.6 L391.7,386.8 L391.8,387.8 L392.1,389.8 L392.4,391.5 L392.7,392.2 L393.6,390.0 L393.8,390.5 L394.0,391.8 L394.1,393.5 L394.2,395.6 L394.3,397.6 L394.5,399.4 L394.7,400.6 L394.9,401.1 L395.2,400.8 L395.5,399.9 L395.9,398.6 L396.2,397.0 L396.6,395.2 L397.0,393.4 L397.4,391.6 L397.8,390.0 L398.1,388.7 L398.5,387.4 L398.8,386.1 L399.1,384.8 L399.5,383.4 L399.8,382.1 L400.1,380.7 L400.5,379.4 L400.8,378.0 L401.1,376.7 L401.4,375.4 L401.7,374.0 L402.0,372.7 L402.3,371.4 L402.5,370.1 L402.8,368.7 L403.1,367.4 L403.3,366.1 L403.6,364.7 L403.8,363.3 L404.0,362.0 L404.2,360.8 L404.3,359.4 L404.5,358.1 L404.6,356.8 L404.7,355.5 L404.8,354.1 L405.0,352.8 L405.1,351.5 L405.3,350.2 L405.4,349.0 L405.6,347.8 L405.8,346.3 L406.1,344.9 L406.4,343.5 L406.6,342.1 L406.9,340.8 L407.2,339.4 L407.5,338.1 L407.8,336.7 L408.1,335.3 L408.5,334.0 L408.8,332.6 L409.2,331.3 L409.5,329.9 L409.9,328.5 L410.2,327.1 L410.4,325.6 L410.6,324.4 L410.7,323.1 L410.8,321.8 L410.8,320.5 L410.9,319.1 L410.9,317.8 L410.9,316.4 L411.0,315.1 L411.0,313.7 L411.0,312.3 L411.1,311.0 L411.2,309.6 L411.2,308.2 L411.2,306.7 L411.2,305.2 L411.3,303.7 L411.3,302.2 L411.4,300.8 L411.4,299.5 L411.5,298.2 L411.6,297.0 L411.8,296.0 L412.2,294.3 L412.7,293.0 L413.3,291.5 L413.8,289.9 L414.4,288.1 L415.1,286.3 L415.7,284.9 L416.2,284.4 L416.8,285.3 L417.3,287.2 L417.8,289.0 L418.3,290.4 L418.7,292.0 L418.9,293.0 L419.0,294.2 L419.1,295.5 L419.3,297.0 L419.4,298.5 L419.5,300.1 L419.6,301.6 L419.7,303.0 L419.9,304.4 L420.0,305.6 L420.3,307.3 L420.5,308.7 L420.8,310.2 L421.1,312.0 L421.2,313.0 L421.3,314.0 L421.5,315.1 L421.6,316.3 L421.7,317.5 L421.9,318.8 L422.0,320.2 L422.1,321.5 L422.2,322.9 L422.4,324.4 L422.5,325.8 L422.6,327.3 L422.8,328.7 L422.9,330.2 L423.0,331.6 L423.2,333.0 L423.3,334.4 L423.4,335.7 L423.6,337.0 L423.7,338.3 L423.8,339.6 L423.9,341.0 L424.1,342.3 L424.2,343.7 L424.3,345.0 L424.5,346.4 L424.6,347.8 L424.7,349.1 L424.9,350.5 L425.0,351.8 L425.1,353.2 L425.3,354.5 L425.4,355.9 L425.6,357.2 L425.7,358.5 L425.9,359.8 L426.0,361.1 L426.2,362.5 L426.3,363.9 L426.5,365.2 L426.6,366.6 L426.8,368.0 L427.0,369.4 L427.2,370.8 L427.3,372.1 L427.5,373.5 L427.7,374.8 L427.8,376.1 L428.0,377.4 L428.2,378.7 L428.4,379.9 L428.5,381.1 L428.7,382.2 L428.9,383.3 L429.2,384.9 L429.4,386.3 L429.7,387.7 L430.0,389.1 L430.3,390.4 L430.5,391.7 L430.8,393.0 L431.1,394.4 L431.4,395.8 L431.7,397.2 L431.9,398.5 L432.2,399.9 L432.5,401.3 L432.8,402.7 L433.0,404.1 L433.3,405.6 L433.5,406.9 L433.7,408.2 L433.9,409.6 L434.1,411.0 L434.3,412.4 L434.6,413.8 L434.8,415.2 L435.0,416.5 L435.2,417.9 L435.4,419.2 L435.6,420.5 L435.9,422.0 L436.1,423.5 L436.3,425.4 L436.6,425.2 L436.8,426.7 L437.1,427.5 L437.4,429.1 L437.8,430.4 L438.2,432.1 L438.7,434.7 L439.2,435.7 L439.7,437.1 L440.2,438.0 L440.8,439.6 L441.3,438.9 L441.8,441.4 L442.2,441.1 L442.6,443.7 L442.9,446.0 L443.2,446.2 L443.5,446.9 L443.8,448.2 L444.1,449.8 L444.3,452.7 L444.6,454.3 L444.8,455.0 L445.1,457.1 L445.3,457.6 L445.5,457.5 L445.6,459.3 L445.8,461.6 L445.9,463.0 L446.1,464.3 L446.2,465.1 L446.3,465.5 L446.5,469.2 L446.7,468.3 L446.9,471.8 L447.2,470.4 L447.5,473.9 L448.1,473.6 L448.8,476.3 L449.5,475.0 L450.3,477.5 L451.1,478.1 L451.8,480.6 L452.5,481.7 L453.2,482.2 L454.0,484.1 L454.8,486.0 L455.6,484.4 L456.7,486.9 L457.8,488.4 L459.0,489.3 L460.1,489.3 L461.1,492.2 L462.1,492.0 L462.9,495.6 L463.7,496.0 L464.4,495.6 L465.2,496.8 L465.9,492.7 L466.7,493.1 L467.4,491.2 L468.3,490.6 L469.1,489.3 L470.0,487.5 L471.1,487.0 L472.2,488.3 L473.3,488.5 L474.2,491.5 L475.0,491.0 L475.8,492.5 L476.7,493.6 L478.3,494.9 L480.0,496.1 L481.7,494.6 L483.3,494.4 L483.9,493.9 L484.4,495.9 L484.8,497.1 L485.1,500.3 L485.6,499.7 L486.2,502.8 L486.8,504.4 L487.5,505.1 L488.2,505.1 L488.9,507.1 L489.6,508.3 L490.3,509.7 L491.0,511.0 L491.8,514.5 L492.5,515.2 L493.3,516.8 L494.0,517.4 L494.8,517.4 L495.5,520.3 L496.3,520.0 L497.1,520.2 L497.8,522.9 L498.5,522.6 L499.2,525.4 L499.9,526.3 L500.6,526.1 L501.4,527.7 L502.2,529.5 L503.0,530.4 L504.0,531.0 L504.9,531.1 L505.9,532.4 L506.9,534.4 L507.9,534.6 L508.9,536.3 L510.0,537.0 L511.1,536.8 L512.2,536.7 L513.3,539.2 L514.4,538.9 L515.6,540.2 L516.8,539.6 L518.1,540.4 L519.4,542.0 L520.7,543.5 L522.0,542.6 L523.3,545.2 L524.5,546.1 L525.8,546.3 L527.1,547.2 L528.5,546.3 L529.8,546.5 L531.0,547.6 L532.2,547.3 L533.7,548.2 L535.0,548.9 L536.4,547.2 L537.8,548.9 L539.0,547.9 L540.3,547.3 L541.7,549.2 L543.0,549.0 L544.3,549.1 L545.6,550.0 L546.9,551.7 L548.2,551.2 L549.5,550.0 L550.8,552.1 L552.2,550.2 L553.4,551.1 L554.6,551.3 L555.9,553.4 L557.1,550.8 L558.4,553.1 L559.8,553.0 L561.1,552.7 L562.4,553.8 L563.8,554.4 L565.1,554.6 L566.5,553.8 L567.9,555.2 L569.3,554.8 L570.8,555.9 L572.2,555.7 L573.5,555.2 L574.8,556.5 L576.1,556.5 L577.5,556.6 L578.8,557.2 L580.2,557.1 L581.5,556.7 L582.9,558.4 L584.3,557.6 L585.6,557.8 L586.9,557.7 L588.2,559.0 L589.6,559.5 L590.9,559.0 L592.2,559.7 L593.5,559.1 L594.8,559.4 L596.2,559.4 L597.5,559.5 L598.9,560.1 L600.3,559.8 L601.6,559.5 L603.0,560.6 L604.4,560.0 L605.9,560.2 L607.3,559.9 L608.7,559.8 L610.1,560.8 L611.6,560.5 L613.0,561.3 L614.4,559.9 L615.7,561.3 L616.9,560.1 L618.0,560.4 L619.2,560.2 L620.3,561.1 L621.5,560.9 L622.7,561.0 L624.0,562.1 L625.3,561.5 L626.8,562.2 L628.3,562.2 L630.0,561.3 L630.9,561.9 L631.8,561.2 L632.7,561.5 L633.6,562.0 L634.6,561.8 L635.6,561.1 L636.7,561.1 L637.8,562.2 L638.9,562.1 L640.0,562.1 L641.1,561.4 L642.3,562.3 L643.5,562.0 L644.7,561.3 L645.9,561.4 L647.2,562.1 L648.5,562.7 L649.8,562.1 L651.1,561.6 L652.4,562.3 L653.8,561.5 L655.1,562.2 L656.5,561.9 L657.9,561.3 L659.3,562.0 L660.7,562.0 L662.1,562.7 L663.5,562.4 L665.0,561.7 L666.4,562.3 L667.9,561.7 L669.3,562.3 L670.8,562.2 L672.3,562.3 L673.8,561.5 L675.2,562.4 L676.7,562.2 L678.2,562.5 L679.7,561.4 L681.2,562.5 L682.7,562.8 L684.1,562.3 L685.6,561.6 L687.1,562.8 L688.5,562.2 L690.0,561.8 L691.5,562.4 L692.9,562.7 L694.3,561.5 L695.8,562.3 L697.2,562.4 L698.6,562.9 L700.0,561.5 L701.2,562.2 L702.5,562.6 L703.7,562.5 L705.0,562.8 L706.3,562.5 L707.5,562.5 L708.8,562.4 L710.1,561.7 L711.3,562.8 L712.6,562.3 L713.9,561.5 L715.2,562.8 L716.5,562.6 L717.7,562.5 L719.0,561.6 L720.3,562.6 L721.6,562.0 L722.9,562.8 L724.2,561.8 L725.5,562.1 L726.8,561.7 L728.2,561.6 L729.5,562.1 L730.8,562.7 L732.1,562.2 L733.4,562.0 L734.7,563.0 L736.1,562.7 L737.4,563.1 L738.7,562.0 L740.0,561.9 L741.4,563.1 L742.7,561.7 L744.0,562.8 L745.3,563.1 L746.7,562.7 L748.0,562.5 L749.3,562.2 L750.7,562.1 L752.0,561.7 L753.3,562.2 L754.7,562.4 L756.0,562.0 L757.3,563.2 L758.7,563.2 L760.0,562.1 L761.3,562.6 L762.7,563.0 L764.0,562.6 L765.3,562.2 L766.7,563.0 L768.0,562.5 L769.3,562.6 L770.6,562.9 L772.0,562.1 L773.3,562.8 L774.6,562.1 L776.0,562.7 L777.3,562.1 L778.6,562.9 L779.9,562.2 L781.2,563.2 L782.6,562.0 L783.9,562.8 L785.2,563.1 L786.5,563.1" stroke="#000080" stroke-width="3.1" stroke-dasharray="20 5 3.1 5" stroke-dashoffset="5"/>
</g>
<g id="photo" clip-path="url(#ph)">
<rect x="633" y="184.7" width="61" height="226.8" fill="#2b25ea"/>
<g filter="url(#soft)">
<rect x="631" y="182" width="65" height="8.5" fill="#04020e"/>
<path d="M634,412 L634,196 Q634.3,188.5 642,187.2 L685,186.2 Q692.5,187.5 693.6,198 L694.5,412 Z" fill="#3038ea"/>
<path d="M634.2,200 Q634.5,189 642,187.6" stroke="#6f78ff" stroke-width="1.4" fill="none"/>
<path d="M685,186.8 Q692,188 693.2,199" stroke="#5a64ff" stroke-width="1.2" fill="none"/>
<polygon points="638,193 686.8,193 688.9,404.6 640,404.6" fill="url(#body)"/>
<polygon points="635.1,195 638.1,193.5 640.1,401 636.9,401" fill="#08084a"/>
<polygon points="687.0,190.5 690.4,192 693.0,401 688.9,401" fill="#08084a"/>
<rect x="632" y="401.2" width="63" height="11.5" fill="#5f6ef8"/>
<rect x="640" y="404.4" width="49" height="8" fill="#6878fc"/>
<rect x="640" y="400.5" width="49" height="4" fill="#3558e2"/>
<ellipse cx="663.8" cy="195.4" rx="22.2" ry="13.5" fill="#bfd2ff"/>
<ellipse cx="663.8" cy="191.6" rx="20.2" ry="10.4" fill="#4341ea"/>
<ellipse cx="664.4" cy="192.4" rx="14.2" ry="9.6" fill="#a4b8ff"/>
<ellipse cx="664.4" cy="192.2" rx="12" ry="9.0" fill="#2a1cc0"/>
<ellipse cx="664.4" cy="196.4" rx="10.2" ry="2.7" fill="#080444"/>
<ellipse cx="664.4" cy="188.4" rx="12.6" ry="3.4" fill="#4c46e6"/>
<path d="M646,186.4 Q664,184.4 682,186.2" stroke="#86a0ff" stroke-width="1.3" fill="none"/>
</g>
<rect x="633" y="184.7" width="1.1" height="226.8" fill="#04041a"/>
</g>

<rect x="120.2" y="4.15" width="666.8" height="559.15" fill="none" stroke="#000" stroke-width="2.1"/>
<path d="M120.20,564.3 v7 M286.90,564.3 v7 M453.60,564.3 v7 M620.30,564.3 v7 M787.00,564.3 v7 M119.2,477.76 h-6.2 M119.2,391.62 h-6.2 M119.2,305.48 h-6.2 M119.2,219.34 h-6.2 M119.2,133.20 h-6.2 M119.2,47.06 h-6.2 M788.0,309.45 h6.2 M788.0,54.80 h6.2" stroke="#000" stroke-width="1.7" fill="none"/>
<text transform="translate(120.2,604.7) scale(1,1.04)" text-anchor="middle" class="tk">300</text>
<text transform="translate(286.9,604.7) scale(1,1.04)" text-anchor="middle" class="tk">400</text>
<text transform="translate(453.6,604.7) scale(1,1.04)" text-anchor="middle" class="tk">500</text>
<text transform="translate(620.3,604.7) scale(1,1.04)" text-anchor="middle" class="tk">600</text>
<text transform="translate(787.0,604.7) scale(1,1.04)" text-anchor="middle" class="tk">700</text>
<text transform="translate(105.0,491.3) scale(1,1.04)" text-anchor="end" class="tk">0.4</text>
<text transform="translate(105.0,405.1) scale(1,1.04)" text-anchor="end" class="tk">0.8</text>
<text transform="translate(105.0,319.0) scale(1,1.04)" text-anchor="end" class="tk">1.2</text>
<text transform="translate(105.0,232.8) scale(1,1.04)" text-anchor="end" class="tk">1.6</text>
<text transform="translate(105.0,146.7) scale(1,1.04)" text-anchor="end" class="tk">2.0</text>
<text transform="translate(105.0,60.6) scale(1,1.04)" text-anchor="end" class="tk">2.4</text>
<text transform="translate(802.5,323.1) scale(1,1.04)" class="tk">0.5</text>
<text transform="translate(802.5,68.4) scale(1,1.04)" class="tk">1.0</text>
<text x="454.9" y="646.4" text-anchor="middle">Wavelength (nm)</text>
<text transform="translate(37.8,519.4) rotate(-90)">Absorbance<tspan dx="-1.5"> (10</tspan><tspan class="sup" dx="1.5" dy="-14.7">4</tspan><tspan dx="1.75" dy="14.7"> cm</tspan><tspan class="sup" dx="1.3" dy="-14.7" textLength="20.6" lengthAdjust="spacingAndGlyphs">−</tspan><tspan class="sup" dx="1.6">1</tspan><tspan dx="2.3" dy="14.7"> M</tspan><tspan class="sup" dx="0.7" dy="-14.7" textLength="20.6" lengthAdjust="spacingAndGlyphs">−</tspan><tspan class="sup" dx="2.7">1</tspan><tspan dx="3.4" dy="14.7">)</tspan></text>
<text transform="translate(888.0,283.5) rotate(-90)" text-anchor="middle">Normalized PL intensity (a.u.)</text>
<g fill="none" stroke-width="3.1">
<path d="M622,40.3 h37.8" stroke="#1e1e1e" stroke-dasharray="11.5 5"/>
<path d="M622,92.4 h37.8" stroke="#0000ff" stroke-linecap="square"/>
<path d="M622,144.3 h37.8" stroke="#000080" stroke-dasharray="20 5 3.1 5"/>
</g>
<text x="670.5" y="53.2">Abs.</text>
<text x="670.5" y="105.2">PL</text>
<text x="670.5" y="157.2">Phos.</text>
<text x="563.2" y="452.7">Toluene sol.</text>
</svg></body></html>
